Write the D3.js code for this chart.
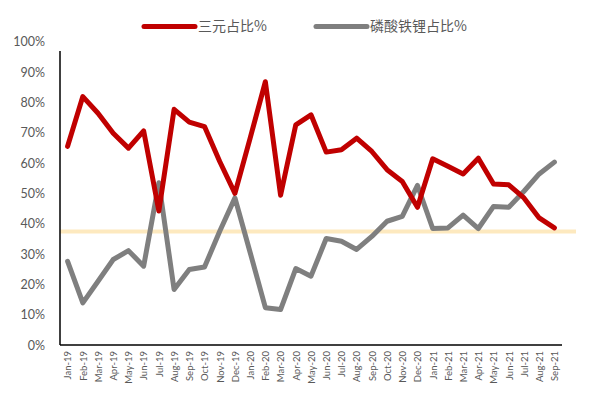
<!DOCTYPE html>
<html>
<head>
<meta charset="utf-8">
<script src="https://cdn.jsdelivr.net/npm/d3@7"></script>
<style>
  body { margin: 0; background: #fff; }
  svg { display: block; }
</style>
</head>
<body>
<div class="chart_container"></div>
<script>
// months on the x axis
var months = ["Jan-19","Feb-19","Mar-19","Apr-19","May-19","Jun-19","Jul-19","Aug-19","Sep-19","Oct-19","Nov-19","Dec-19",
              "Jan-20","Feb-20","Mar-20","Apr-20","May-20","Jun-20","Jul-20","Aug-20","Sep-20","Oct-20","Nov-20","Dec-20",
              "Jan-21","Feb-21","Mar-21","Apr-21","May-21","Jun-21","Jul-21","Aug-21","Sep-21"];
// 三元占比% (percent)
var ternary = [65.5, 81.9, 76.4, 69.8, 64.9, 70.6, 44.2, 77.7, 73.5, 72.0, 60.5, 50.0,
               68.2, 86.8, 49.4, 72.6, 75.9, 63.6, 64.4, 68.2, 63.8, 57.8, 53.9, 45.4,
               61.4, 58.9, 56.4, 61.6, 53.1, 52.8, 48.5, 41.9, 38.6];
// 磷酸铁锂占比% (percent)
var lfp = [27.6, 13.9, 21.0, 28.2, 31.1, 26.0, 53.5, 18.3, 24.9, 25.7, 37.5, 48.5,
           30.5, 12.3, 11.7, 25.2, 22.7, 35.1, 34.2, 31.5, 35.8, 40.8, 42.4, 52.6,
           38.4, 38.6, 42.8, 38.4, 45.7, 45.4, 50.7, 56.4, 60.3];
var yTicks = [0, 10, 20, 30, 40, 50, 60, 70, 80, 90, 100];
var refLine = 37.4;
var seriesNames = ["三元占比%", "磷酸铁锂占比%"];
var seriesColors = ["#c00000", "#7f7f7f"];

var w = 589, h = 397;
var p_left = 60, p_right = 562, p_top = 41.7, p_bottom = 345;

var svg = d3.select(".chart_container").append("svg")
    .attr("width", w).attr("height", h);

var x_scale = d3.scalePoint().domain(months).range([p_left, p_right]).padding(0.5);
var y_scale = d3.scaleLinear().domain([0, 100]).range([p_bottom, p_top]);

// y axis labels
var y_axis = d3.axisLeft(y_scale).tickValues(yTicks).tickSize(0).tickPadding(15)
    .tickFormat(d => d + "%");
var yg = svg.append("g").attr("transform", "translate(" + p_left + ",0)").call(y_axis);
yg.select(".domain").remove();
yg.selectAll("text")
    .style("font-family", "Lato, 'Open Sans', sans-serif")
    .style("font-size", "12.5px")
    .attr("fill", "#595959");

// x axis labels
var x_axis = d3.axisBottom(x_scale).tickSize(0).tickPadding(0);
var xg = svg.append("g").attr("transform", "translate(0," + p_bottom + ")").call(x_axis);
xg.select(".domain").remove();
xg.selectAll("text")
    .attr("transform", "rotate(-90)")
    .attr("x", -6).attr("y", 0).attr("dy", "0.35em")
    .style("text-anchor", "end")
    .style("font-family", "Lato, 'Open Sans', sans-serif")
    .style("font-size", "9.5px")
    .attr("fill", "#595959");

// reference line
svg.append("line")
    .attr("x1", p_left).attr("x2", 576)
    .attr("y1", y_scale(refLine)).attr("y2", y_scale(refLine))
    .attr("stroke", "#fde9bf").attr("stroke-width", 4);

// axis lines
svg.append("line").attr("x1", p_left).attr("x2", p_left).attr("y1", 51).attr("y2", p_bottom)
    .attr("stroke", "#000").attr("stroke-width", 1.5);
svg.append("line").attr("x1", p_left).attr("x2", p_right).attr("y1", p_bottom).attr("y2", p_bottom)
    .attr("stroke", "#000").attr("stroke-width", 1.5);

// series lines
var line = d3.line().x((d, i) => x_scale(months[i])).y(d => y_scale(d));
[lfp, ternary].forEach(function(vals, k) {
    var c = k === 0 ? seriesColors[1] : seriesColors[0];
    svg.append("path")
        .attr("d", line(vals))
        .attr("fill", "none")
        .attr("stroke", c)
        .attr("stroke-width", 5)
        .attr("stroke-linejoin", "round")
        .attr("stroke-linecap", "round");
});

// legend
var legendX = [144, 316];
seriesNames.forEach(function(name, i) {
    var g = svg.append("g").attr("transform", "translate(" + legendX[i] + ",26.5)");
    g.append("line").attr("x1", 0).attr("x2", 51).attr("y1", 0).attr("y2", 0)
        .attr("stroke", seriesColors[i]).attr("stroke-width", 5).attr("stroke-linecap", "round");
    g.append("text").attr("x", 54).attr("y", 0).attr("dy", "0.35em")
        .style("font-family", "'Noto Sans CJK SC', sans-serif")
        .style("font-size", "14px")
        .attr("fill", "#595959")
        .text(name);
});
</script>
</body>
</html>
